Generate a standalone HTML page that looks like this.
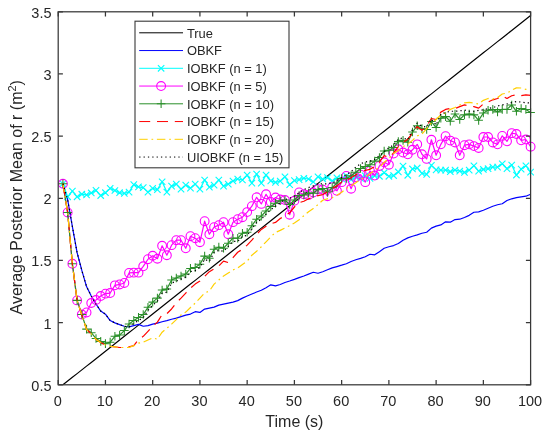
<!DOCTYPE html>
<html><head><meta charset="utf-8"><title>Average Posterior Mean of r</title>
<style>html,body{margin:0;padding:0;background:#fff}svg{display:block}text{font-family:"Liberation Sans",sans-serif;fill:#262626}</style></head><body>
<svg width="550" height="438" viewBox="0 0 550 438">
<rect width="550" height="438" fill="#fff"/>
<g fill="none" stroke-linejoin="round">
<polyline points="62.92,384.80 67.65,381.07 72.37,377.34 77.10,373.61 81.82,369.88 86.54,366.15 91.27,362.42 95.99,358.69 100.72,354.96 105.44,351.23 110.16,347.50 114.89,343.77 119.61,340.04 124.34,336.31 129.06,332.58 133.78,328.85 138.51,325.12 143.23,321.39 147.96,317.66 152.68,313.93 157.40,310.20 162.13,306.47 166.85,302.74 171.58,299.01 176.30,295.28 181.02,291.55 185.75,287.82 190.47,284.09 195.20,280.36 199.92,276.63 204.64,272.90 209.37,269.17 214.09,265.44 218.82,261.71 223.54,257.98 228.26,254.25 232.99,250.52 237.71,246.79 242.44,243.06 247.16,239.33 251.88,235.60 256.61,231.87 261.33,228.14 266.06,224.41 270.78,220.68 275.50,216.95 280.23,213.22 284.95,209.49 289.68,205.76 294.40,202.03 299.12,198.30 303.85,194.57 308.57,190.84 313.30,187.11 318.02,183.38 322.74,179.65 327.47,175.92 332.19,172.19 336.92,168.46 341.64,164.73 346.36,161.00 351.09,157.27 355.81,153.54 360.54,149.81 365.26,146.08 369.98,142.35 374.71,138.62 379.43,134.89 384.16,131.16 388.88,127.43 393.60,123.70 398.33,119.97 403.05,116.24 407.78,112.51 412.50,108.78 417.22,105.05 421.95,101.32 426.67,97.59 431.40,93.86 436.12,90.13 440.84,86.40 445.57,82.67 450.29,78.94 455.02,75.21 459.74,71.48 464.46,67.75 469.19,64.02 473.91,60.29 478.64,56.56 483.36,52.83 488.08,49.10 492.81,45.37 497.53,41.64 502.26,37.91 506.98,34.18 511.70,30.45 516.43,26.72 521.15,22.99 525.88,19.26 530.60,15.53" stroke="#000" stroke-width="1.2"/>
<polyline points="62.92,183.75 67.65,199.54 72.37,226.65 77.10,252.63 81.82,270.41 86.54,286.58 91.27,296.03 95.99,303.98 100.72,311.07 105.44,314.18 110.16,320.52 114.89,322.88 119.61,324.62 124.34,326.24 129.06,326.86 133.78,325.62 138.51,324.37 143.23,326.24 147.96,325.62 152.68,324.13 157.40,323.13 162.13,321.76 166.85,320.64 171.58,319.28 176.30,318.16 181.02,316.67 185.75,315.17 190.47,314.05 195.20,311.69 199.92,312.44 204.64,309.08 209.37,308.09 214.09,307.09 218.82,305.10 223.54,304.11 228.26,303.11 232.99,302.12 237.71,300.63 242.44,298.14 247.16,296.03 251.88,294.04 256.61,292.05 261.33,290.31 266.06,287.70 270.78,284.84 275.50,285.83 280.23,284.46 284.95,282.47 289.68,280.98 294.40,279.37 299.12,277.62 303.85,276.01 308.57,274.14 313.30,272.28 318.02,273.27 322.74,271.78 327.47,269.79 332.19,267.93 336.92,266.56 341.64,265.19 346.36,263.70 351.09,261.46 355.81,259.72 360.54,258.35 365.26,256.74 369.98,254.25 374.71,254.87 379.43,251.64 384.16,248.28 388.88,246.79 393.60,245.55 398.33,243.56 403.05,240.20 407.78,237.84 412.50,236.22 417.22,234.85 421.95,233.24 426.67,232.24 431.40,228.14 436.12,226.15 440.84,224.91 445.57,221.80 450.29,222.17 455.02,219.56 459.74,219.19 464.46,217.45 469.19,215.33 473.91,212.23 478.64,211.85 483.36,210.24 488.08,208.25 492.81,206.26 497.53,204.77 502.26,203.77 506.98,200.54 511.70,198.80 516.43,197.55 521.15,196.81 525.88,196.19 530.60,194.20" stroke="#0000ff" stroke-width="1.2"/>
<polyline points="62.92,183.75 67.65,196.81 72.37,191.09 77.10,196.81 81.82,194.20 86.54,194.82 91.27,192.95 95.99,190.34 100.72,195.56 105.44,192.71 110.16,188.35 114.89,190.47 119.61,192.71 124.34,193.33 129.06,192.08 133.78,184.62 138.51,186.86 143.23,187.61 147.96,192.08 152.68,188.35 157.40,189.60 162.13,181.76 166.85,192.08 171.58,186.12 176.30,184.13 181.02,189.10 185.75,185.12 190.47,188.10 195.20,184.13 199.92,189.10 204.64,180.02 209.37,187.11 214.09,185.12 218.82,180.02 223.54,186.12 228.26,184.13 232.99,181.02 237.71,179.03 242.44,180.02 247.16,175.05 251.88,183.13 256.61,174.06 261.33,183.13 266.06,175.05 270.78,180.89 275.50,182.39 280.23,181.14 284.95,176.79 289.68,184.75 294.40,180.52 299.12,179.65 303.85,178.28 308.57,179.03 313.30,181.89 318.02,176.79 322.74,179.03 327.47,177.54 332.19,180.89 336.92,177.79 341.64,179.03 346.36,175.92 351.09,179.65 355.81,177.16 360.54,178.41 365.26,175.92 369.98,178.41 374.71,175.92 379.43,176.29 384.16,172.69 388.88,176.29 393.60,175.55 398.33,171.94 403.05,165.97 407.78,175.30 412.50,168.96 417.22,167.96 421.95,173.43 426.67,174.43 431.40,165.35 436.12,169.83 440.84,170.08 445.57,170.08 450.29,171.69 455.02,170.08 459.74,171.07 464.46,172.44 469.19,170.08 473.91,165.72 478.64,171.07 483.36,169.45 488.08,168.71 492.81,167.09 497.53,167.09 502.26,163.74 506.98,168.71 511.70,165.10 516.43,175.05 521.15,169.08 525.88,165.72 530.60,172.07" stroke="#00ffff" stroke-width="1.2"/>
<path stroke="#00ffff" stroke-width="1.1" d="M59.72,180.55l6.4,6.4m-6.4,0l6.4,-6.4M64.45,193.61l6.4,6.4m-6.4,0l6.4,-6.4M69.17,187.89l6.4,6.4m-6.4,0l6.4,-6.4M73.90,193.61l6.4,6.4m-6.4,0l6.4,-6.4M78.62,191.00l6.4,6.4m-6.4,0l6.4,-6.4M83.34,191.62l6.4,6.4m-6.4,0l6.4,-6.4M88.07,189.75l6.4,6.4m-6.4,0l6.4,-6.4M92.79,187.14l6.4,6.4m-6.4,0l6.4,-6.4M97.52,192.36l6.4,6.4m-6.4,0l6.4,-6.4M102.24,189.51l6.4,6.4m-6.4,0l6.4,-6.4M106.96,185.15l6.4,6.4m-6.4,0l6.4,-6.4M111.69,187.27l6.4,6.4m-6.4,0l6.4,-6.4M116.41,189.51l6.4,6.4m-6.4,0l6.4,-6.4M121.14,190.13l6.4,6.4m-6.4,0l6.4,-6.4M125.86,188.88l6.4,6.4m-6.4,0l6.4,-6.4M130.58,181.42l6.4,6.4m-6.4,0l6.4,-6.4M135.31,183.66l6.4,6.4m-6.4,0l6.4,-6.4M140.03,184.41l6.4,6.4m-6.4,0l6.4,-6.4M144.76,188.88l6.4,6.4m-6.4,0l6.4,-6.4M149.48,185.15l6.4,6.4m-6.4,0l6.4,-6.4M154.20,186.40l6.4,6.4m-6.4,0l6.4,-6.4M158.93,178.56l6.4,6.4m-6.4,0l6.4,-6.4M163.65,188.88l6.4,6.4m-6.4,0l6.4,-6.4M168.38,182.92l6.4,6.4m-6.4,0l6.4,-6.4M173.10,180.93l6.4,6.4m-6.4,0l6.4,-6.4M177.82,185.90l6.4,6.4m-6.4,0l6.4,-6.4M182.55,181.92l6.4,6.4m-6.4,0l6.4,-6.4M187.27,184.90l6.4,6.4m-6.4,0l6.4,-6.4M192.00,180.93l6.4,6.4m-6.4,0l6.4,-6.4M196.72,185.90l6.4,6.4m-6.4,0l6.4,-6.4M201.44,176.82l6.4,6.4m-6.4,0l6.4,-6.4M206.17,183.91l6.4,6.4m-6.4,0l6.4,-6.4M210.89,181.92l6.4,6.4m-6.4,0l6.4,-6.4M215.62,176.82l6.4,6.4m-6.4,0l6.4,-6.4M220.34,182.92l6.4,6.4m-6.4,0l6.4,-6.4M225.06,180.93l6.4,6.4m-6.4,0l6.4,-6.4M229.79,177.82l6.4,6.4m-6.4,0l6.4,-6.4M234.51,175.83l6.4,6.4m-6.4,0l6.4,-6.4M239.24,176.82l6.4,6.4m-6.4,0l6.4,-6.4M243.96,171.85l6.4,6.4m-6.4,0l6.4,-6.4M248.68,179.93l6.4,6.4m-6.4,0l6.4,-6.4M253.41,170.86l6.4,6.4m-6.4,0l6.4,-6.4M258.13,179.93l6.4,6.4m-6.4,0l6.4,-6.4M262.86,171.85l6.4,6.4m-6.4,0l6.4,-6.4M267.58,177.69l6.4,6.4m-6.4,0l6.4,-6.4M272.30,179.19l6.4,6.4m-6.4,0l6.4,-6.4M277.03,177.94l6.4,6.4m-6.4,0l6.4,-6.4M281.75,173.59l6.4,6.4m-6.4,0l6.4,-6.4M286.48,181.55l6.4,6.4m-6.4,0l6.4,-6.4M291.20,177.32l6.4,6.4m-6.4,0l6.4,-6.4M295.92,176.45l6.4,6.4m-6.4,0l6.4,-6.4M300.65,175.08l6.4,6.4m-6.4,0l6.4,-6.4M305.37,175.83l6.4,6.4m-6.4,0l6.4,-6.4M310.10,178.69l6.4,6.4m-6.4,0l6.4,-6.4M314.82,173.59l6.4,6.4m-6.4,0l6.4,-6.4M319.54,175.83l6.4,6.4m-6.4,0l6.4,-6.4M324.27,174.34l6.4,6.4m-6.4,0l6.4,-6.4M328.99,177.69l6.4,6.4m-6.4,0l6.4,-6.4M333.72,174.59l6.4,6.4m-6.4,0l6.4,-6.4M338.44,175.83l6.4,6.4m-6.4,0l6.4,-6.4M343.16,172.72l6.4,6.4m-6.4,0l6.4,-6.4M347.89,176.45l6.4,6.4m-6.4,0l6.4,-6.4M352.61,173.96l6.4,6.4m-6.4,0l6.4,-6.4M357.34,175.21l6.4,6.4m-6.4,0l6.4,-6.4M362.06,172.72l6.4,6.4m-6.4,0l6.4,-6.4M366.78,175.21l6.4,6.4m-6.4,0l6.4,-6.4M371.51,172.72l6.4,6.4m-6.4,0l6.4,-6.4M376.23,173.09l6.4,6.4m-6.4,0l6.4,-6.4M380.96,169.49l6.4,6.4m-6.4,0l6.4,-6.4M385.68,173.09l6.4,6.4m-6.4,0l6.4,-6.4M390.40,172.35l6.4,6.4m-6.4,0l6.4,-6.4M395.13,168.74l6.4,6.4m-6.4,0l6.4,-6.4M399.85,162.77l6.4,6.4m-6.4,0l6.4,-6.4M404.58,172.10l6.4,6.4m-6.4,0l6.4,-6.4M409.30,165.76l6.4,6.4m-6.4,0l6.4,-6.4M414.02,164.76l6.4,6.4m-6.4,0l6.4,-6.4M418.75,170.23l6.4,6.4m-6.4,0l6.4,-6.4M423.47,171.23l6.4,6.4m-6.4,0l6.4,-6.4M428.20,162.15l6.4,6.4m-6.4,0l6.4,-6.4M432.92,166.63l6.4,6.4m-6.4,0l6.4,-6.4M437.64,166.88l6.4,6.4m-6.4,0l6.4,-6.4M442.37,166.88l6.4,6.4m-6.4,0l6.4,-6.4M447.09,168.49l6.4,6.4m-6.4,0l6.4,-6.4M451.82,166.88l6.4,6.4m-6.4,0l6.4,-6.4M456.54,167.87l6.4,6.4m-6.4,0l6.4,-6.4M461.26,169.24l6.4,6.4m-6.4,0l6.4,-6.4M465.99,166.88l6.4,6.4m-6.4,0l6.4,-6.4M470.71,162.52l6.4,6.4m-6.4,0l6.4,-6.4M475.44,167.87l6.4,6.4m-6.4,0l6.4,-6.4M480.16,166.25l6.4,6.4m-6.4,0l6.4,-6.4M484.88,165.51l6.4,6.4m-6.4,0l6.4,-6.4M489.61,163.89l6.4,6.4m-6.4,0l6.4,-6.4M494.33,163.89l6.4,6.4m-6.4,0l6.4,-6.4M499.06,160.54l6.4,6.4m-6.4,0l6.4,-6.4M503.78,165.51l6.4,6.4m-6.4,0l6.4,-6.4M508.50,161.90l6.4,6.4m-6.4,0l6.4,-6.4M513.23,171.85l6.4,6.4m-6.4,0l6.4,-6.4M517.95,165.88l6.4,6.4m-6.4,0l6.4,-6.4M522.68,162.52l6.4,6.4m-6.4,0l6.4,-6.4M527.40,168.87l6.4,6.4m-6.4,0l6.4,-6.4"/>
<polyline points="62.92,183.75 67.65,212.47 72.37,263.82 77.10,300.38 81.82,314.55 86.54,312.44 91.27,302.99 95.99,300.00 100.72,296.03 105.44,293.66 110.16,293.04 114.89,285.33 119.61,284.46 124.34,282.97 129.06,272.90 133.78,272.65 138.51,272.65 143.23,266.31 147.96,259.22 152.68,255.74 157.40,258.73 162.13,245.80 166.85,255.24 171.58,245.17 176.30,240.20 181.02,240.20 185.75,248.28 190.47,236.22 195.20,238.21 199.92,242.19 204.64,221.18 209.37,234.23 214.09,227.15 218.82,225.16 223.54,222.17 228.26,234.23 232.99,222.17 237.71,219.19 242.44,217.20 247.16,212.10 251.88,206.13 256.61,197.31 261.33,203.90 266.06,194.32 270.78,202.03 275.50,197.55 280.23,199.54 284.95,200.04 289.68,214.71 294.40,200.79 299.12,192.46 303.85,194.32 308.57,194.94 313.30,192.46 318.02,189.22 322.74,189.60 327.47,196.19 332.19,187.11 336.92,190.84 341.64,182.14 346.36,175.92 351.09,188.73 355.81,177.16 360.54,174.68 365.26,182.14 369.98,170.95 374.71,175.55 379.43,165.97 384.16,162.24 388.88,164.73 393.60,153.54 398.33,149.31 403.05,152.55 407.78,154.29 412.50,149.81 417.22,144.34 421.95,154.29 426.67,158.89 431.40,139.74 436.12,155.28 440.84,144.34 445.57,136.13 450.29,140.61 455.02,142.47 459.74,155.28 464.46,145.21 469.19,144.34 473.91,146.08 478.64,147.95 483.36,137.00 488.08,137.00 492.81,142.47 497.53,144.34 502.26,135.88 506.98,141.36 511.70,133.15 516.43,134.02 521.15,140.36 525.88,139.49 530.60,146.70" stroke="#ff00ff" stroke-width="1.2"/>
<g stroke="#ff00ff" stroke-width="1.1"><circle cx="62.92" cy="183.75" r="4.4"/><circle cx="67.65" cy="212.47" r="4.4"/><circle cx="72.37" cy="263.82" r="4.4"/><circle cx="77.10" cy="300.38" r="4.4"/><circle cx="81.82" cy="314.55" r="4.4"/><circle cx="86.54" cy="312.44" r="4.4"/><circle cx="91.27" cy="302.99" r="4.4"/><circle cx="95.99" cy="300.00" r="4.4"/><circle cx="100.72" cy="296.03" r="4.4"/><circle cx="105.44" cy="293.66" r="4.4"/><circle cx="110.16" cy="293.04" r="4.4"/><circle cx="114.89" cy="285.33" r="4.4"/><circle cx="119.61" cy="284.46" r="4.4"/><circle cx="124.34" cy="282.97" r="4.4"/><circle cx="129.06" cy="272.90" r="4.4"/><circle cx="133.78" cy="272.65" r="4.4"/><circle cx="138.51" cy="272.65" r="4.4"/><circle cx="143.23" cy="266.31" r="4.4"/><circle cx="147.96" cy="259.22" r="4.4"/><circle cx="152.68" cy="255.74" r="4.4"/><circle cx="157.40" cy="258.73" r="4.4"/><circle cx="162.13" cy="245.80" r="4.4"/><circle cx="166.85" cy="255.24" r="4.4"/><circle cx="171.58" cy="245.17" r="4.4"/><circle cx="176.30" cy="240.20" r="4.4"/><circle cx="181.02" cy="240.20" r="4.4"/><circle cx="185.75" cy="248.28" r="4.4"/><circle cx="190.47" cy="236.22" r="4.4"/><circle cx="195.20" cy="238.21" r="4.4"/><circle cx="199.92" cy="242.19" r="4.4"/><circle cx="204.64" cy="221.18" r="4.4"/><circle cx="209.37" cy="234.23" r="4.4"/><circle cx="214.09" cy="227.15" r="4.4"/><circle cx="218.82" cy="225.16" r="4.4"/><circle cx="223.54" cy="222.17" r="4.4"/><circle cx="228.26" cy="234.23" r="4.4"/><circle cx="232.99" cy="222.17" r="4.4"/><circle cx="237.71" cy="219.19" r="4.4"/><circle cx="242.44" cy="217.20" r="4.4"/><circle cx="247.16" cy="212.10" r="4.4"/><circle cx="251.88" cy="206.13" r="4.4"/><circle cx="256.61" cy="197.31" r="4.4"/><circle cx="261.33" cy="203.90" r="4.4"/><circle cx="266.06" cy="194.32" r="4.4"/><circle cx="270.78" cy="202.03" r="4.4"/><circle cx="275.50" cy="197.55" r="4.4"/><circle cx="280.23" cy="199.54" r="4.4"/><circle cx="284.95" cy="200.04" r="4.4"/><circle cx="289.68" cy="214.71" r="4.4"/><circle cx="294.40" cy="200.79" r="4.4"/><circle cx="299.12" cy="192.46" r="4.4"/><circle cx="303.85" cy="194.32" r="4.4"/><circle cx="308.57" cy="194.94" r="4.4"/><circle cx="313.30" cy="192.46" r="4.4"/><circle cx="318.02" cy="189.22" r="4.4"/><circle cx="322.74" cy="189.60" r="4.4"/><circle cx="327.47" cy="196.19" r="4.4"/><circle cx="332.19" cy="187.11" r="4.4"/><circle cx="336.92" cy="190.84" r="4.4"/><circle cx="341.64" cy="182.14" r="4.4"/><circle cx="346.36" cy="175.92" r="4.4"/><circle cx="351.09" cy="188.73" r="4.4"/><circle cx="355.81" cy="177.16" r="4.4"/><circle cx="360.54" cy="174.68" r="4.4"/><circle cx="365.26" cy="182.14" r="4.4"/><circle cx="369.98" cy="170.95" r="4.4"/><circle cx="374.71" cy="175.55" r="4.4"/><circle cx="379.43" cy="165.97" r="4.4"/><circle cx="384.16" cy="162.24" r="4.4"/><circle cx="388.88" cy="164.73" r="4.4"/><circle cx="393.60" cy="153.54" r="4.4"/><circle cx="398.33" cy="149.31" r="4.4"/><circle cx="403.05" cy="152.55" r="4.4"/><circle cx="407.78" cy="154.29" r="4.4"/><circle cx="412.50" cy="149.81" r="4.4"/><circle cx="417.22" cy="144.34" r="4.4"/><circle cx="421.95" cy="154.29" r="4.4"/><circle cx="426.67" cy="158.89" r="4.4"/><circle cx="431.40" cy="139.74" r="4.4"/><circle cx="436.12" cy="155.28" r="4.4"/><circle cx="440.84" cy="144.34" r="4.4"/><circle cx="445.57" cy="136.13" r="4.4"/><circle cx="450.29" cy="140.61" r="4.4"/><circle cx="455.02" cy="142.47" r="4.4"/><circle cx="459.74" cy="155.28" r="4.4"/><circle cx="464.46" cy="145.21" r="4.4"/><circle cx="469.19" cy="144.34" r="4.4"/><circle cx="473.91" cy="146.08" r="4.4"/><circle cx="478.64" cy="147.95" r="4.4"/><circle cx="483.36" cy="137.00" r="4.4"/><circle cx="488.08" cy="137.00" r="4.4"/><circle cx="492.81" cy="142.47" r="4.4"/><circle cx="497.53" cy="144.34" r="4.4"/><circle cx="502.26" cy="135.88" r="4.4"/><circle cx="506.98" cy="141.36" r="4.4"/><circle cx="511.70" cy="133.15" r="4.4"/><circle cx="516.43" cy="134.02" r="4.4"/><circle cx="521.15" cy="140.36" r="4.4"/><circle cx="525.88" cy="139.49" r="4.4"/><circle cx="530.60" cy="146.70" r="4.4"/></g>
<polyline points="62.92,183.75 67.65,212.47 72.37,263.82 77.10,300.38 81.82,314.55 86.54,329.10 91.27,332.70 95.99,338.55 100.72,341.41 105.44,343.65 110.16,342.15 114.89,336.31 119.61,335.07 124.34,330.59 129.06,324.00 133.78,320.40 138.51,317.41 143.23,314.55 147.96,307.22 152.68,302.12 157.40,298.14 162.13,290.06 166.85,289.06 171.58,279.99 176.30,278.00 181.02,276.01 185.75,274.02 190.47,268.42 195.20,267.55 199.92,264.20 204.64,256.12 209.37,258.23 214.09,249.28 218.82,247.16 223.54,248.28 228.26,243.18 232.99,238.21 237.71,238.21 242.44,233.24 247.16,232.24 251.88,225.65 256.61,219.19 261.33,216.08 266.06,210.98 270.78,206.51 275.50,203.27 280.23,200.79 284.95,200.04 289.68,204.52 294.40,200.04 299.12,195.56 303.85,194.94 308.57,193.08 313.30,193.33 318.02,189.60 322.74,188.48 327.47,192.08 332.19,187.61 336.92,183.01 341.64,178.53 346.36,178.53 351.09,175.80 355.81,172.19 360.54,168.46 365.26,166.59 369.98,164.73 374.71,161.12 379.43,157.52 384.16,151.05 388.88,150.18 393.60,147.57 398.33,141.60 403.05,140.36 407.78,142.23 412.50,132.03 417.22,125.69 421.95,128.67 426.67,129.54 431.40,121.59 436.12,127.55 440.84,118.23 445.57,116.61 450.29,121.21 455.02,114.00 459.74,119.47 464.46,114.87 469.19,114.00 473.91,114.87 478.64,120.34 483.36,113.01 488.08,110.27 492.81,109.40 497.53,111.89 502.26,109.40 506.98,109.40 511.70,104.93 516.43,111.27 521.15,108.53 525.88,109.40 530.60,112.51" stroke="#2a8f2a" stroke-width="1.2"/>
<path stroke="#2a8f2a" stroke-width="1.05" d="M58.62,183.75h8.6M62.92,179.45v8.6M63.35,212.47h8.6M67.65,208.17v8.6M68.07,263.82h8.6M72.37,259.52v8.6M72.80,300.38h8.6M77.10,296.08v8.6M77.52,314.55h8.6M81.82,310.25v8.6M82.24,329.10h8.6M86.54,324.80v8.6M86.97,332.70h8.6M91.27,328.40v8.6M91.69,338.55h8.6M95.99,334.25v8.6M96.42,341.41h8.6M100.72,337.11v8.6M101.14,343.65h8.6M105.44,339.35v8.6M105.86,342.15h8.6M110.16,337.85v8.6M110.59,336.31h8.6M114.89,332.01v8.6M115.31,335.07h8.6M119.61,330.77v8.6M120.04,330.59h8.6M124.34,326.29v8.6M124.76,324.00h8.6M129.06,319.70v8.6M129.48,320.40h8.6M133.78,316.10v8.6M134.21,317.41h8.6M138.51,313.11v8.6M138.93,314.55h8.6M143.23,310.25v8.6M143.66,307.22h8.6M147.96,302.92v8.6M148.38,302.12h8.6M152.68,297.82v8.6M153.10,298.14h8.6M157.40,293.84v8.6M157.83,290.06h8.6M162.13,285.76v8.6M162.55,289.06h8.6M166.85,284.76v8.6M167.28,279.99h8.6M171.58,275.69v8.6M172.00,278.00h8.6M176.30,273.70v8.6M176.72,276.01h8.6M181.02,271.71v8.6M181.45,274.02h8.6M185.75,269.72v8.6M186.17,268.42h8.6M190.47,264.12v8.6M190.90,267.55h8.6M195.20,263.25v8.6M195.62,264.20h8.6M199.92,259.90v8.6M200.34,256.12h8.6M204.64,251.81v8.6M205.07,258.23h8.6M209.37,253.93v8.6M209.79,249.28h8.6M214.09,244.98v8.6M214.52,247.16h8.6M218.82,242.86v8.6M219.24,248.28h8.6M223.54,243.98v8.6M223.96,243.18h8.6M228.26,238.88v8.6M228.69,238.21h8.6M232.99,233.91v8.6M233.41,238.21h8.6M237.71,233.91v8.6M238.14,233.24h8.6M242.44,228.94v8.6M242.86,232.24h8.6M247.16,227.94v8.6M247.58,225.65h8.6M251.88,221.35v8.6M252.31,219.19h8.6M256.61,214.89v8.6M257.03,216.08h8.6M261.33,211.78v8.6M261.76,210.98h8.6M266.06,206.68v8.6M266.48,206.51h8.6M270.78,202.21v8.6M271.20,203.27h8.6M275.50,198.97v8.6M275.93,200.79h8.6M280.23,196.49v8.6M280.65,200.04h8.6M284.95,195.74v8.6M285.38,204.52h8.6M289.68,200.22v8.6M290.10,200.04h8.6M294.40,195.74v8.6M294.82,195.56h8.6M299.12,191.26v8.6M299.55,194.94h8.6M303.85,190.64v8.6M304.27,193.08h8.6M308.57,188.78v8.6M309.00,193.33h8.6M313.30,189.03v8.6M313.72,189.60h8.6M318.02,185.30v8.6M318.44,188.48h8.6M322.74,184.18v8.6M323.17,192.08h8.6M327.47,187.78v8.6M327.89,187.61h8.6M332.19,183.31v8.6M332.62,183.01h8.6M336.92,178.71v8.6M337.34,178.53h8.6M341.64,174.23v8.6M342.06,178.53h8.6M346.36,174.23v8.6M346.79,175.80h8.6M351.09,171.50v8.6M351.51,172.19h8.6M355.81,167.89v8.6M356.24,168.46h8.6M360.54,164.16v8.6M360.96,166.59h8.6M365.26,162.29v8.6M365.68,164.73h8.6M369.98,160.43v8.6M370.41,161.12h8.6M374.71,156.82v8.6M375.13,157.52h8.6M379.43,153.22v8.6M379.86,151.05h8.6M384.16,146.75v8.6M384.58,150.18h8.6M388.88,145.88v8.6M389.30,147.57h8.6M393.60,143.27v8.6M394.03,141.60h8.6M398.33,137.30v8.6M398.75,140.36h8.6M403.05,136.06v8.6M403.48,142.23h8.6M407.78,137.93v8.6M408.20,132.03h8.6M412.50,127.73v8.6M412.92,125.69h8.6M417.22,121.39v8.6M417.65,128.67h8.6M421.95,124.37v8.6M422.37,129.54h8.6M426.67,125.24v8.6M427.10,121.59h8.6M431.40,117.29v8.6M431.82,127.55h8.6M436.12,123.25v8.6M436.54,118.23h8.6M440.84,113.93v8.6M441.27,116.61h8.6M445.57,112.31v8.6M445.99,121.21h8.6M450.29,116.91v8.6M450.72,114.00h8.6M455.02,109.70v8.6M455.44,119.47h8.6M459.74,115.17v8.6M460.16,114.87h8.6M464.46,110.57v8.6M464.89,114.00h8.6M469.19,109.70v8.6M469.61,114.87h8.6M473.91,110.57v8.6M474.34,120.34h8.6M478.64,116.04v8.6M479.06,113.01h8.6M483.36,108.71v8.6M483.78,110.27h8.6M488.08,105.97v8.6M488.51,109.40h8.6M492.81,105.10v8.6M493.23,111.89h8.6M497.53,107.59v8.6M497.96,109.40h8.6M502.26,105.10v8.6M502.68,109.40h8.6M506.98,105.10v8.6M507.40,104.93h8.6M511.70,100.63v8.6M512.13,111.27h8.6M516.43,106.97v8.6M516.85,108.53h8.6M521.15,104.23v8.6M521.58,109.40h8.6M525.88,105.10v8.6M526.30,112.51h8.6M530.60,108.21v8.6"/>
<polyline points="62.92,183.75 67.65,212.47 72.37,263.82 77.10,300.38 81.82,315.17 86.54,329.47 91.27,333.82 95.99,339.42 100.72,342.53 105.44,345.01 110.16,346.26 114.89,346.88 119.61,347.50 124.34,347.50 129.06,346.88 133.78,345.63 138.51,339.42 143.23,336.31 147.96,331.34 152.68,326.36 157.40,322.14 162.13,314.55 166.85,313.68 171.58,308.96 176.30,302.74 181.02,298.14 185.75,293.04 190.47,288.07 195.20,284.09 199.92,280.98 204.64,276.38 209.37,271.66 214.09,268.92 218.82,265.94 223.54,261.09 228.26,262.58 232.99,257.61 237.71,252.26 242.44,249.28 247.16,245.17 251.88,240.20 256.61,234.36 261.33,229.38 266.06,226.28 270.78,223.79 275.50,222.42 280.23,218.57 284.95,215.71 289.68,212.85 294.40,207.00 299.12,202.65 303.85,201.28 308.57,198.80 313.30,196.93 318.02,195.56 322.74,194.57 327.47,192.08 332.19,188.35 336.92,185.87 341.64,182.14 346.36,180.27 351.09,177.79 355.81,174.80 360.54,172.94 365.26,170.32 369.98,169.33 374.71,166.59 379.43,162.12 384.16,155.65 388.88,157.52 393.60,152.92 398.33,146.58 403.05,142.35 407.78,139.24 412.50,133.15 417.22,126.68 421.95,130.29 426.67,125.94 431.40,118.48 436.12,119.47 440.84,112.14 445.57,109.40 450.29,108.53 455.02,108.53 459.74,106.67 464.46,104.93 469.19,105.80 473.91,106.67 478.64,108.16 483.36,103.93 488.08,102.07 492.81,99.83 497.53,98.46 502.26,95.73 506.98,98.46 511.70,95.73 516.43,94.85 521.15,95.73 525.88,94.85 530.60,95.35" stroke="#ff0000" stroke-width="1.2" stroke-dasharray="11 6.8"/>
<polyline points="62.92,183.75 67.65,212.47 72.37,263.82 77.10,300.38 81.82,315.17 86.54,329.47 91.27,333.82 95.99,339.42 100.72,342.53 105.44,345.01 110.16,346.26 114.89,346.88 119.61,347.50 124.34,347.50 129.06,347.50 133.78,345.63 138.51,343.15 143.23,342.15 147.96,340.04 152.68,337.93 157.40,339.17 162.13,332.21 166.85,328.23 171.58,324.13 176.30,319.65 181.02,314.92 185.75,312.06 190.47,307.46 195.20,303.11 199.92,298.14 204.64,293.04 209.37,291.05 214.09,284.09 218.82,279.99 223.54,276.01 228.26,273.02 232.99,269.92 237.71,267.93 242.44,264.57 247.16,261.09 251.88,255.24 256.61,251.27 261.33,246.79 266.06,241.82 270.78,236.84 275.50,232.37 280.23,230.38 284.95,227.89 289.68,225.65 294.40,222.92 299.12,219.81 303.85,215.71 308.57,211.73 313.30,208.62 318.02,204.52 322.74,200.29 327.47,198.80 332.19,197.80 336.92,195.19 341.64,192.21 346.36,188.35 351.09,185.87 355.81,182.76 360.54,179.65 365.26,177.16 369.98,173.43 374.71,170.32 379.43,167.22 384.16,162.24 388.88,158.51 393.60,153.54 398.33,150.43 403.05,146.70 407.78,143.97 412.50,140.36 417.22,135.88 421.95,134.02 426.67,128.55 431.40,123.08 436.12,119.47 440.84,114.87 445.57,113.01 450.29,109.40 455.02,107.54 459.74,105.05 464.46,102.81 469.19,102.31 473.91,103.19 478.64,103.93 483.36,100.33 488.08,98.46 492.81,99.08 497.53,97.59 502.26,93.98 506.98,93.11 511.70,90.25 516.43,87.89 521.15,88.02 525.88,89.38 530.60,89.88" stroke="#ffd000" stroke-width="1.2" stroke-dasharray="8.5 3.8 1.7 3.7"/>
<polyline points="62.92,183.75 67.65,199.54 72.37,226.65 77.10,252.63 81.82,270.41 86.54,286.58 91.27,296.03 95.99,303.98 100.72,311.07 105.44,314.18 110.16,320.52 114.89,322.88 119.61,324.62 124.34,326.24 129.06,327.11 133.78,323.50 138.51,320.52 143.23,317.66 147.96,310.32 152.68,305.23 157.40,301.25 162.13,293.17 166.85,292.17 171.58,283.10 176.30,281.11 181.02,279.12 185.75,277.13 190.47,271.53 195.20,270.66 199.92,267.31 204.64,259.22 209.37,261.34 214.09,252.38 218.82,250.27 223.54,251.39 228.26,246.29 232.99,241.32 237.71,241.32 242.44,236.35 247.16,235.35 251.88,228.76 256.61,222.30 261.33,219.19 266.06,214.09 270.78,209.61 275.50,206.38 280.23,202.65 284.95,199.54 289.68,198.30 294.40,195.81 299.12,192.71 303.85,189.60 308.57,187.48 313.30,185.87 318.02,183.75 322.74,183.88 327.47,183.88 332.19,182.63 336.92,180.89 341.64,177.66 346.36,174.43 351.09,171.82 355.81,167.09 360.54,163.74 365.26,161.99 369.98,161.12 374.71,159.38 379.43,155.65 384.16,151.68 388.88,147.70 393.60,145.09 398.33,139.12 403.05,137.87 407.78,139.74 412.50,129.54 417.22,123.20 421.95,126.19 426.67,127.06 431.40,119.10 436.12,125.07 440.84,114.00 445.57,112.51 450.29,111.27 455.02,111.27 459.74,110.89 464.46,110.02 469.19,111.27 473.91,111.27 478.64,110.27 483.36,109.90 488.08,108.53 492.81,107.66 497.53,105.92 502.26,104.93 506.98,103.93 511.70,102.69 516.43,101.57 521.15,102.07 525.88,102.69 530.60,103.06" stroke="#000" stroke-width="1.2" stroke-dasharray="1.3 3.0"/>
</g>
<g stroke="#383838" stroke-width="1.25" fill="none">
<rect x="58.2" y="11.8" width="472.40" height="373.00"/>
<path d="M58.20,384.8v-4.7M58.20,11.8v4.7M105.44,384.8v-4.7M105.44,11.8v4.7M152.68,384.8v-4.7M152.68,11.8v4.7M199.92,384.8v-4.7M199.92,11.8v4.7M247.16,384.8v-4.7M247.16,11.8v4.7M294.40,384.8v-4.7M294.40,11.8v4.7M341.64,384.8v-4.7M341.64,11.8v4.7M388.88,384.8v-4.7M388.88,11.8v4.7M436.12,384.8v-4.7M436.12,11.8v4.7M483.36,384.8v-4.7M483.36,11.8v4.7M530.60,384.8v-4.7M530.60,11.8v4.7M58.2,384.80h4.7M530.6,384.80h-4.7M58.2,322.63h4.7M530.6,322.63h-4.7M58.2,260.47h4.7M530.6,260.47h-4.7M58.2,198.30h4.7M530.6,198.30h-4.7M58.2,136.13h4.7M530.6,136.13h-4.7M58.2,73.97h4.7M530.6,73.97h-4.7M58.2,11.80h4.7M530.6,11.80h-4.7"/>
</g>
<g font-size="14.5" text-anchor="middle">
<text x="57.70" y="406.4">0</text>
<text x="104.94" y="406.4">10</text>
<text x="152.18" y="406.4">20</text>
<text x="199.42" y="406.4">30</text>
<text x="246.66" y="406.4">40</text>
<text x="293.90" y="406.4">50</text>
<text x="341.14" y="406.4">60</text>
<text x="388.38" y="406.4">70</text>
<text x="435.62" y="406.4">80</text>
<text x="482.86" y="406.4">90</text>
<text x="530.10" y="406.4">100</text>
</g>
<g font-size="14.5" text-anchor="end">
<text x="51.5" y="390.70">0.5</text>
<text x="51.5" y="328.53">1</text>
<text x="51.5" y="266.37">1.5</text>
<text x="51.5" y="204.20">2</text>
<text x="51.5" y="142.03">2.5</text>
<text x="51.5" y="79.87">3</text>
<text x="51.5" y="17.70">3.5</text>
</g>
<text x="294.4" y="427.2" font-size="16.0" text-anchor="middle">Time (s)</text>
<text transform="translate(22.3,197.3) rotate(-90)" font-size="16.0" text-anchor="middle">Average Posterior Mean of r (m<tspan font-size="10.9" dy="-6.6">2</tspan><tspan dy="6.6">)</tspan></text>
<rect x="135.0" y="21.2" width="154.0" height="146.60000000000002" fill="#fff" stroke="#383838" stroke-width="1.1"/>
<line x1="139.2" y1="32.80" x2="183.0" y2="32.80" stroke="#000" stroke-width="1.0"/>
<text x="186.9" y="37.70" font-size="12.9">True</text>
<line x1="139.2" y1="50.55" x2="183.0" y2="50.55" stroke="#0000ff" stroke-width="1.0"/>
<text x="186.9" y="55.45" font-size="12.9">OBKF</text>
<line x1="139.2" y1="68.30" x2="183.0" y2="68.30" stroke="#00ffff" stroke-width="1.0"/>
<path fill="none" stroke="#00ffff" stroke-width="1.1" d="M157.90,65.10l6.4,6.4m-6.4,0l6.4,-6.4"/>
<text x="186.9" y="73.20" font-size="12.9">IOBKF (n = 1)</text>
<line x1="139.2" y1="86.05" x2="183.0" y2="86.05" stroke="#ff00ff" stroke-width="1.0"/>
<g fill="none" stroke="#ff00ff" stroke-width="1.1"><circle cx="161.10" cy="86.05" r="4.4"/></g>
<text x="186.9" y="90.95" font-size="12.9">IOBKF (n = 5)</text>
<line x1="139.2" y1="103.80" x2="183.0" y2="103.80" stroke="#2a8f2a" stroke-width="1.0"/>
<path fill="none" stroke="#2a8f2a" stroke-width="1.05" d="M156.80,103.80h8.6M161.10,99.50v8.6"/>
<text x="186.9" y="108.70" font-size="12.9">IOBKF (n = 10)</text>
<line x1="139.2" y1="121.55" x2="183.0" y2="121.55" stroke="#ff0000" stroke-width="1.0" stroke-dasharray="11 6.8"/>
<text x="186.9" y="126.45" font-size="12.9">IOBKF (n = 15)</text>
<line x1="139.2" y1="139.30" x2="183.0" y2="139.30" stroke="#ffd000" stroke-width="1.0" stroke-dasharray="8.5 3.8 1.7 3.7"/>
<text x="186.9" y="144.20" font-size="12.9">IOBKF (n = 20)</text>
<line x1="139.2" y1="157.05" x2="183.0" y2="157.05" stroke="#000" stroke-width="1.0" stroke-dasharray="1.3 3.05"/>
<text x="186.9" y="161.95" font-size="12.9">UIOBKF (n = 15)</text>
</svg></body></html>
